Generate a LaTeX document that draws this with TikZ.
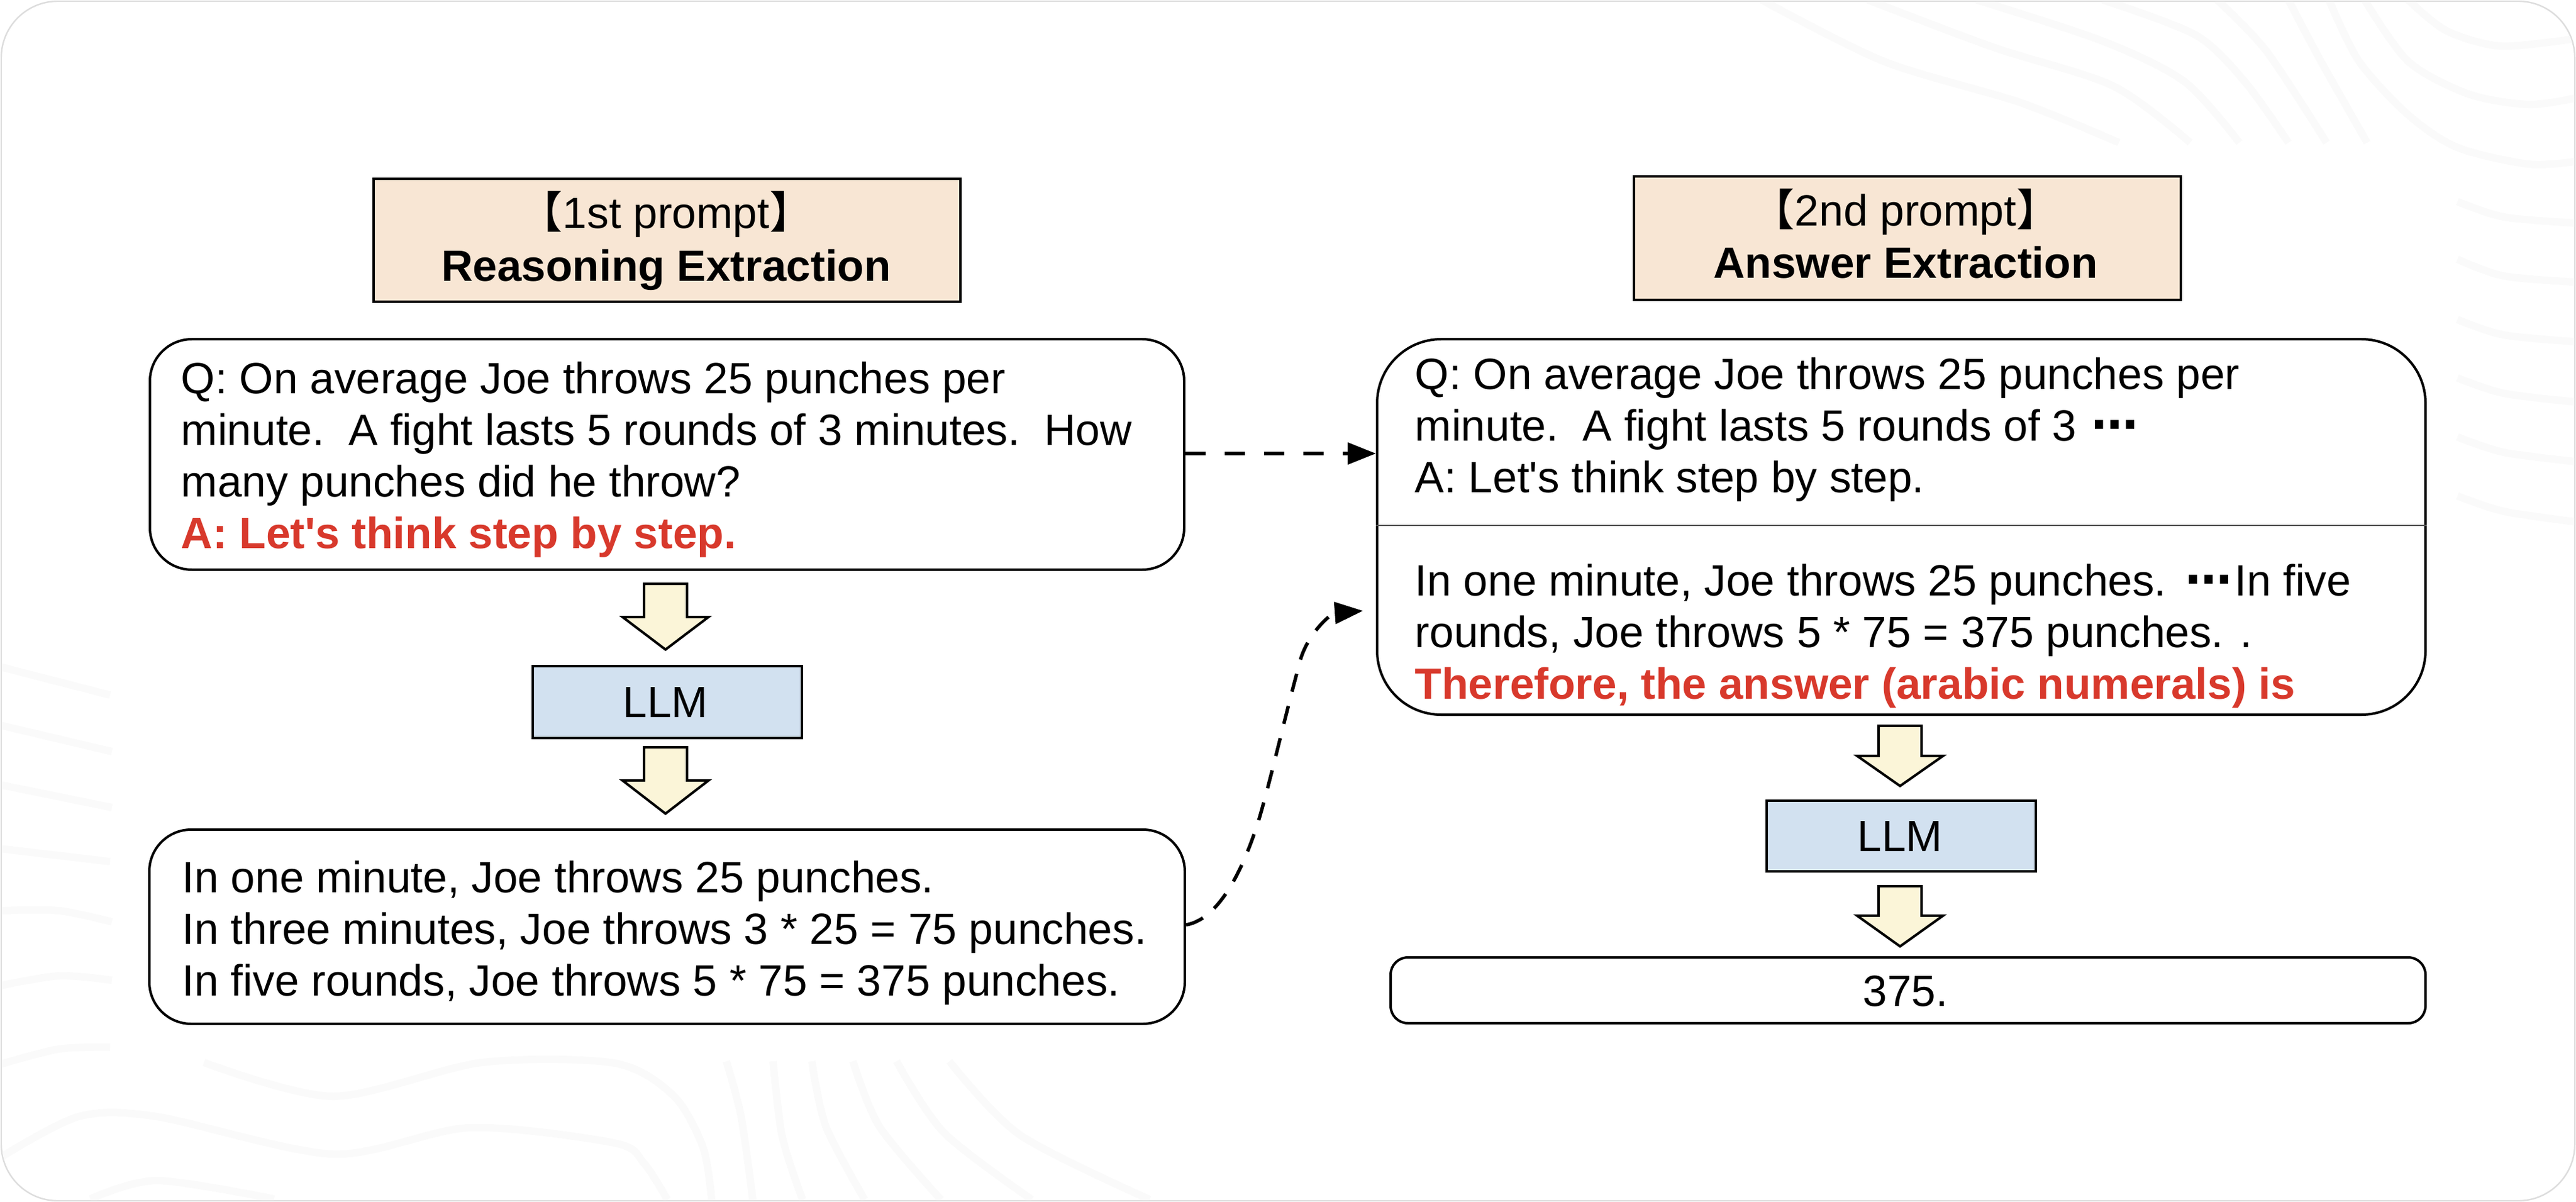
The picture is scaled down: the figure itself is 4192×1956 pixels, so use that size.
\documentclass[tikz,border=0pt]{standalone}
\usepackage{fontspec}
\newfontfamily\arialfont{Liberation Sans}
\newfontfamily\cjkfont{Noto Sans CJK SC}
\newfontfamily\symfont{DejaVu Sans}
\usetikzlibrary{arrows.meta}
\definecolor{hdrfill}{HTML}{F8E6D4}
\definecolor{llmfill}{HTML}{D2E1F0}
\definecolor{arrfill}{HTML}{FBF5D8}
\definecolor{redtxt}{HTML}{D8392C}
\definecolor{framecol}{HTML}{DDDDDD}
\definecolor{divcol}{HTML}{555555}
\definecolor{wavecol}{HTML}{FAFAFA}
\newcommand{\bigtxt}{\arialfont\fontsize{17.8}{21}\selectfont}
\newcommand{\ddd}{{\kern1pt\symfont\bfseries\fontsize{19}{21}\selectfont ⋯\kern1pt}}
\newcommand{\blkarrow}[4]{\draw[blockarr] (#1-35,#2) -- (#1+35,#2) -- (#1+35,#3) -- (#1+70,#3) -- (#1,#4) -- (#1-70,#3) -- (#1-35,#3) -- cycle;}
\tikzset{
  x=0.25pt,y=-0.25pt,
  hdrbox/.style={draw=black,line width=1pt,fill=hdrfill,inner sep=0pt,anchor=north west},
  llmbox/.style={draw=black,line width=1pt,fill=llmfill,inner sep=0pt,anchor=north west},
  txtbox/.style={draw=black,line width=1pt,fill=white,rounded corners=17pt,inner sep=0pt,anchor=north west},
  blocktxt/.style={anchor=north west,inner sep=0pt,align=left,font=\bigtxt},
  baseline txt/.style={anchor=base,inner sep=0pt,font=\bigtxt},
  blockarr/.style={draw=black,line width=1pt,fill=arrfill,line join=miter},
  flow/.style={draw=black,line width=1.4pt,-{Triangle[length=11.5pt,width=8.75pt]}},
  wave/.style={draw=wavecol,line width=3pt},
}
\begin{document}
\begin{tikzpicture}
\useasboundingbox (0,0) rectangle (4192,1956);
\draw[draw=framecol,line width=0.6pt,fill=white,rounded corners=23pt] (2,2) rectangle (4190,1954);
% faint background contours
\begin{scope}
\clip[rounded corners=23pt] (3,3) rectangle (4189,1953);
\foreach \pts in {
  {(2867,0) (3066,100) (3288,167) (3448,232)},
  {(3040,0) (3244,77) (3439,140) (3564,232)},
  {(3217,0) (3422,67) (3555,133) (3644,232)},
  {(3422,0) (3573,57) (3653,133) (3724,232)},
  {(3608,0) (3688,83) (3786,232)},
  {(3724,0) (3777,100) (3852,232)},
  {(3790,0) (3839,100) (3919,187) (3999,240) (4114,267) (4190,263)},
  {(3848,0) (3919,100) (4017,153) (4114,170) (4190,160)},
  {(3919,0) (3981,50) (4070,75) (4190,63)},
  {(3999,328) (4074,353) (4190,363)},
  {(3999,422) (4074,449) (4190,459)},
  {(3999,520) (4074,545) (4190,556)},
  {(3999,615) (4074,640) (4190,654)},
  {(3999,711) (4074,736) (4190,751)},
  {(3999,807) (4074,832) (4190,849)},
  {(0,1085) (179,1131)},
  {(0,1180) (182,1223)},
  {(0,1277) (182,1314)},
  {(0,1381) (179,1402)},
  {(0,1482) (96,1482) (182,1500)},
  {(0,1604) (96,1588) (182,1595)},
  {(0,1732) (96,1707) (179,1704)},
  {(0,1884) (128,1817) (255,1817) (542,1878) (765,1835) (1000,1860) (1048,1893) (1086,1952)},
  {(332,1729) (542,1784) (784,1729) (1000,1730) (1096,1783) (1144,1867) (1158,1952)},
  {(147,1951) (255,1921) (446,1951)},
  {(1182,1727) (1206,1817) (1225,1952)},
  {(1258,1727) (1273,1850) (1306,1952)},
  {(1321,1727) (1344,1833) (1407,1952)},
  {(1388,1727) (1431,1833) (1531,1952)},
  {(1459,1727) (1536,1843) (1679,1952)},
  {(1545,1727) (1660,1847) (1871,1952)}}
  \draw[wave] plot[smooth] coordinates \pts;
\end{scope}
% boxes
\node[hdrbox,minimum width=955*0.25pt,minimum height=200*0.25pt] (h1) at (606,289) {};
\node[hdrbox,minimum width=890*0.25pt,minimum height=201*0.25pt] (h2) at (2657,285) {};
\node[txtbox,minimum width=1683*0.25pt,minimum height=375*0.25pt] (q1) at (242,550) {};
\node[txtbox,minimum width=1685*0.25pt,minimum height=316*0.25pt] (r1) at (241,1348) {};
\node[txtbox,rounded corners=26pt,minimum width=1706*0.25pt,minimum height=611*0.25pt] (q2) at (2239,550) {};
\node[txtbox,rounded corners=7pt,minimum width=1684*0.25pt,minimum height=107*0.25pt] (ans) at (2261,1556) {};
\node[llmbox,minimum width=438*0.25pt,minimum height=117*0.25pt] (llm1) at (865,1082) {};
\node[llmbox,minimum width=438*0.25pt,minimum height=115*0.25pt] (llm2) at (2873,1301) {};
\coordinate (divy) at (0,855);
\draw[draw=divcol,line width=0.7pt] (q2.west |- divy) -- (q2.east |- divy);
% header text
\node[baseline txt] (h1a) at (1084,372) {{\cjkfont 【}1st prompt{\cjkfont 】}};
\node[baseline txt] (h1b) at (1084,458) {\bfseries Reasoning Extraction};
\node[baseline txt] (h2a) at (3101,368) {{\cjkfont 【}2nd prompt{\cjkfont 】}};
\node[baseline txt] (h2b) at (3101,453) {\bfseries Answer Extraction};
% body text
\node[blocktxt] (t1) at (294,588) {Q: On average Joe throws 25 punches per\\minute.\ \ A fight lasts 5 rounds of 3 minutes.\ \ How\\many punches did he throw?\\\textcolor{redtxt}{\bfseries A: Let's think step by step.}};
\node[blocktxt] (t2) at (296,1400) {In one minute, Joe throws 25 punches.\\In three minutes, Joe throws 3 * 25 = 75 punches.\\In five rounds, Joe throws 5 * 75 = 375 punches.};
\node[blocktxt] (t3) at (2302,581) {Q: On average Joe throws 25 punches per\\minute.\ \ A fight lasts 5 rounds of 3 \ddd\\A: Let's think step by step.};
\node[blocktxt] (t4) at (2302,917) {In one minute, Joe throws 25 punches. \ddd In five\\rounds, Joe throws 5 * 75 = 375 punches. .\\\textcolor{redtxt}{\bfseries Therefore, the answer (arabic numerals) is}};
\node[baseline txt] (l1) at (1083,1167) {LLM};
\node[baseline txt] (l2) at (3092,1385) {LLM};
\node[baseline txt] (a) at (3101,1637) {375.};
% block arrows
\blkarrow{1083}{950}{1004}{1057}
\blkarrow{1083}{1216}{1270}{1324}
\blkarrow{3092}{1181}{1230}{1279}
\blkarrow{3092}{1442}{1490}{1540}
% connectors
\coordinate (c1) at (q2.west |- 0,738);
\coordinate (s2) at (r1.east |- 0,1505);
\coordinate (e2) at (2218,994);
\draw[flow,dash pattern=on 8.25pt off 7.75pt] (q1.east |- c1) -- (c1);
\draw[flow,dash pattern=on 7.5pt off 6pt] (s2) .. controls (1990,1495) and (2030,1395) .. (2050,1329) .. controls (2070,1260) and (2095,1150) .. (2117,1071) .. controls (2130,1030) and (2165,998) .. (e2);
\end{tikzpicture}
\end{document}
